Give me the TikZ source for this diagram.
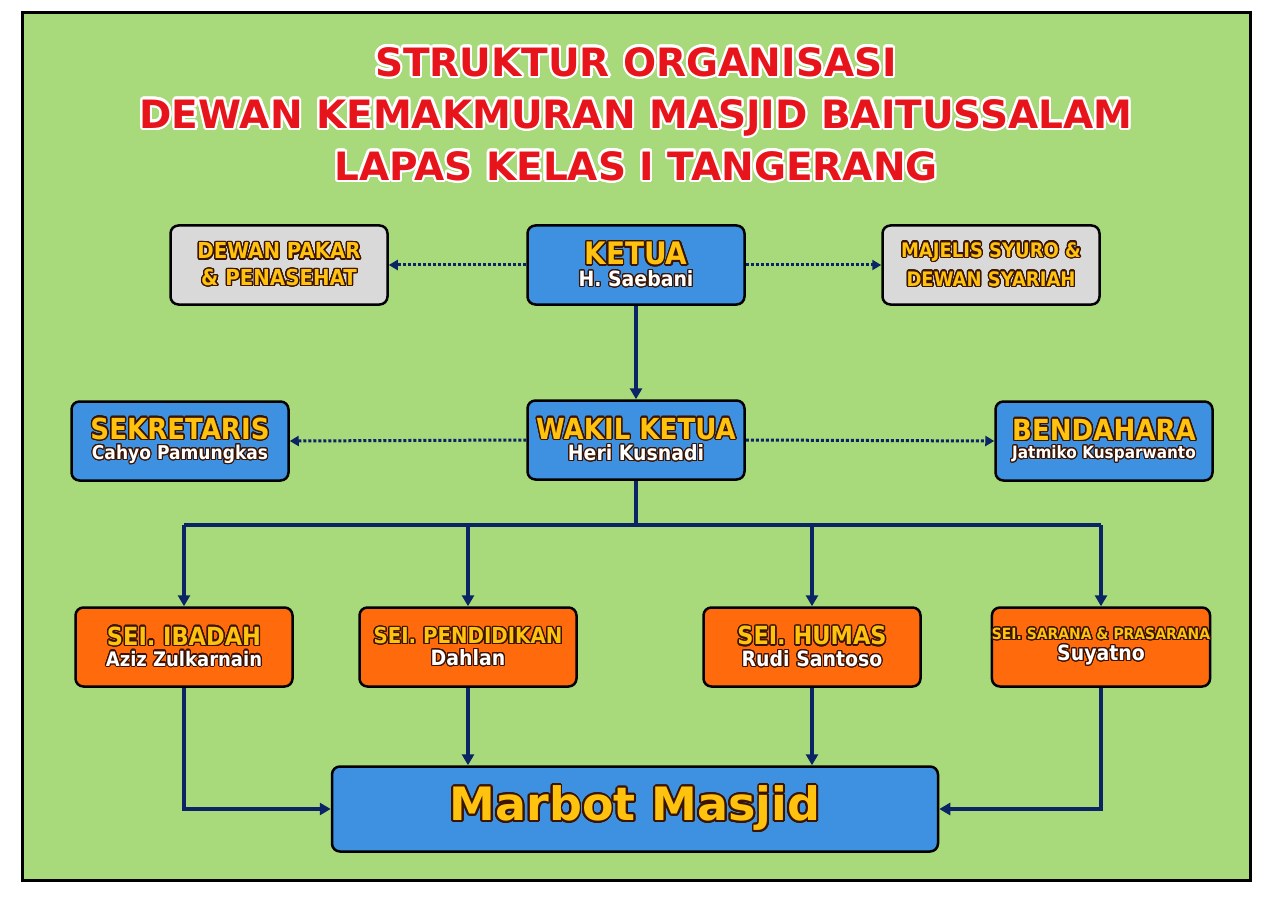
\documentclass[tikz,border=0pt]{standalone}
\usepackage{fontspec}
\setmainfont{DejaVu Sans}
\newfontfamily\condfont{DejaVu Sans Condensed}
\usepackage{contour}
\contournumber{24}
\usetikzlibrary{arrows.meta}
\definecolor{bgreen}{HTML}{A8D97A}
\definecolor{boxblue}{HTML}{3E90E0}
\definecolor{boxgrey}{HTML}{D9D9D9}
\definecolor{boxorange}{HTML}{FF6A0D}
\definecolor{linenavy}{HTML}{0B2466}
\definecolor{txtgold}{HTML}{FFC20E}
\definecolor{txtdark}{HTML}{3A1400}
\definecolor{titlered}{HTML}{E8141C}
\newcommand{\gold}[1]{\contourlength{1.3pt}\contour{txtdark}{\textcolor{txtgold}{#1}}}
\newcommand{\whitename}[1]{\contourlength{1.1pt}\contour{txtdark}{\textcolor{white}{#1}}}
\newcommand{\redtitle}[1]{\contourlength{2.2pt}\contour{white}{\textcolor{titlered}{#1}}}
\tikzset{
  unit/.style={draw=black, line width=2.5pt, rounded corners=8pt, minimum width=217pt,
    minimum height=79pt, align=center, inner sep=0pt, font=\condfont\bfseries},
  bluebox/.style={unit, fill=boxblue},
  greybox/.style={unit, fill=boxgrey},
  orangebox/.style={unit, fill=boxorange},
  link/.style={draw=linenavy, line width=3.5pt, -{Triangle[length=11pt,width=12pt]}},
  dotlink/.style={draw=linenavy, line width=3pt, dotted, -{Triangle[length=9pt,width=10pt]}},
}
\begin{document}
\begin{tikzpicture}[x=1pt, y=-1pt]
  \useasboundingbox (0,0) rectangle (1280,904);
  \fill[white] (0,0) rectangle (1280,904);
  \draw[fill=bgreen, line width=3pt] (22,13) rectangle (1250,880);
  % title
  \node[font=\bfseries\fontsize{39}{44}\selectfont, align=center] (title) at (636,115)
    {\redtitle{STRUKTUR ORGANISASI}\\[8pt]\redtitle{DEWAN KEMAKMURAN MASJID BAITUSSALAM}\\[8pt]\redtitle{LAPAS KELAS I TANGERANG}};
  % top level
  \node[bluebox] (ketua) at (636,265) {{\fontsize{31}{33}\selectfont\gold{KETUA}}\\[3pt]{\fontsize{21}{23}\selectfont\whitename{H. Saebani}}};
  \node[greybox] (pakar) at (279,265) {\fontsize{22}{24}\selectfont\gold{DEWAN PAKAR}\\[8pt]\fontsize{22}{24}\selectfont\gold{\& PENASEHAT}};
  \node[greybox] (majelis) at (991,265) {\fontsize{20}{24}\selectfont\gold{MAJELIS SYURO \&}\\[8pt]\fontsize{20}{24}\selectfont\gold{DEWAN SYARIAH}};
  % second level
  \node[bluebox] (wakil) at (636,440) {{\fontsize{29}{31}\selectfont\gold{WAKIL KETUA}}\\[3pt]{\fontsize{21}{23}\selectfont\whitename{Heri Kusnadi}}};
  \node[bluebox] (sekretaris) at (180,441) {{\fontsize{29}{31}\selectfont\gold{SEKRETARIS}}\\[3pt]{\fontsize{19}{21}\selectfont\whitename{Cahyo Pamungkas}}};
  \node[bluebox] (bendahara) at (1104,441) {{\fontsize{29}{31}\selectfont\gold{BENDAHARA}}\\[3pt]{\fontsize{17}{21}\selectfont\whitename{Jatmiko Kusparwanto}}};
  % seksi
  \node[orangebox] (ibadah) at (184,647) {{\fontsize{25}{28}\selectfont\gold{SEI. IBADAH}}\\[3pt]{\fontsize{20}{22}\selectfont\whitename{Aziz Zulkarnain}}};
  \node[orangebox] (pendidikan) at (468,647) {{\fontsize{22}{28}\selectfont\gold{SEI. PENDIDIKAN}}\\[3pt]{\fontsize{21}{22}\selectfont\whitename{Dahlan}}};
  \node[orangebox] (humas) at (812,647) {{\fontsize{25}{28}\selectfont\gold{SEI. HUMAS}}\\[3pt]{\fontsize{21}{22}\selectfont\whitename{Rudi Santoso}}};
  \node[orangebox] (sarana) at (1101,647) {{\fontsize{15.5}{28}\selectfont\gold{SEI. SARANA \& PRASARANA}}\\[3pt]{\fontsize{21}{22}\selectfont\whitename{Suyatno}}};
  % marbot
  \node[bluebox, minimum width=606pt, minimum height=85pt, font=\bfseries] (marbot) at (635,809)
    {\fontsize{46}{50}\selectfont\contourlength{1.8pt}\contour{txtdark}{\textcolor{txtgold}{Marbot Masjid}}};
  % connectors
  \draw[link] (ketua) -- (wakil);
  \draw[dotlink] (ketua.west) -- (pakar.east);
  \draw[dotlink] (ketua.east) -- (majelis.west);
  \draw[dotlink] (wakil.west) -- (sekretaris.east);
  \draw[dotlink] (wakil.east) -- (bendahara.west);
  \coordinate (split) at (636,525);
  \draw[draw=linenavy, line width=3.5pt] (wakil.south) -- (split);
  \draw[draw=linenavy, line width=3.5pt] (ibadah.north |- split) -- (sarana.north |- split);
  \foreach \s in {ibadah, pendidikan, humas, sarana}
    \draw[link] (\s.north |- split) -- (\s.north);
  \draw[link] (ibadah.south) |- (marbot.west);
  \draw[link] (sarana.south) |- (marbot.east);
  \draw[link] (pendidikan.south) -- (pendidikan.south |- marbot.north);
  \draw[link] (humas.south) -- (humas.south |- marbot.north);
\end{tikzpicture}
\end{document}
